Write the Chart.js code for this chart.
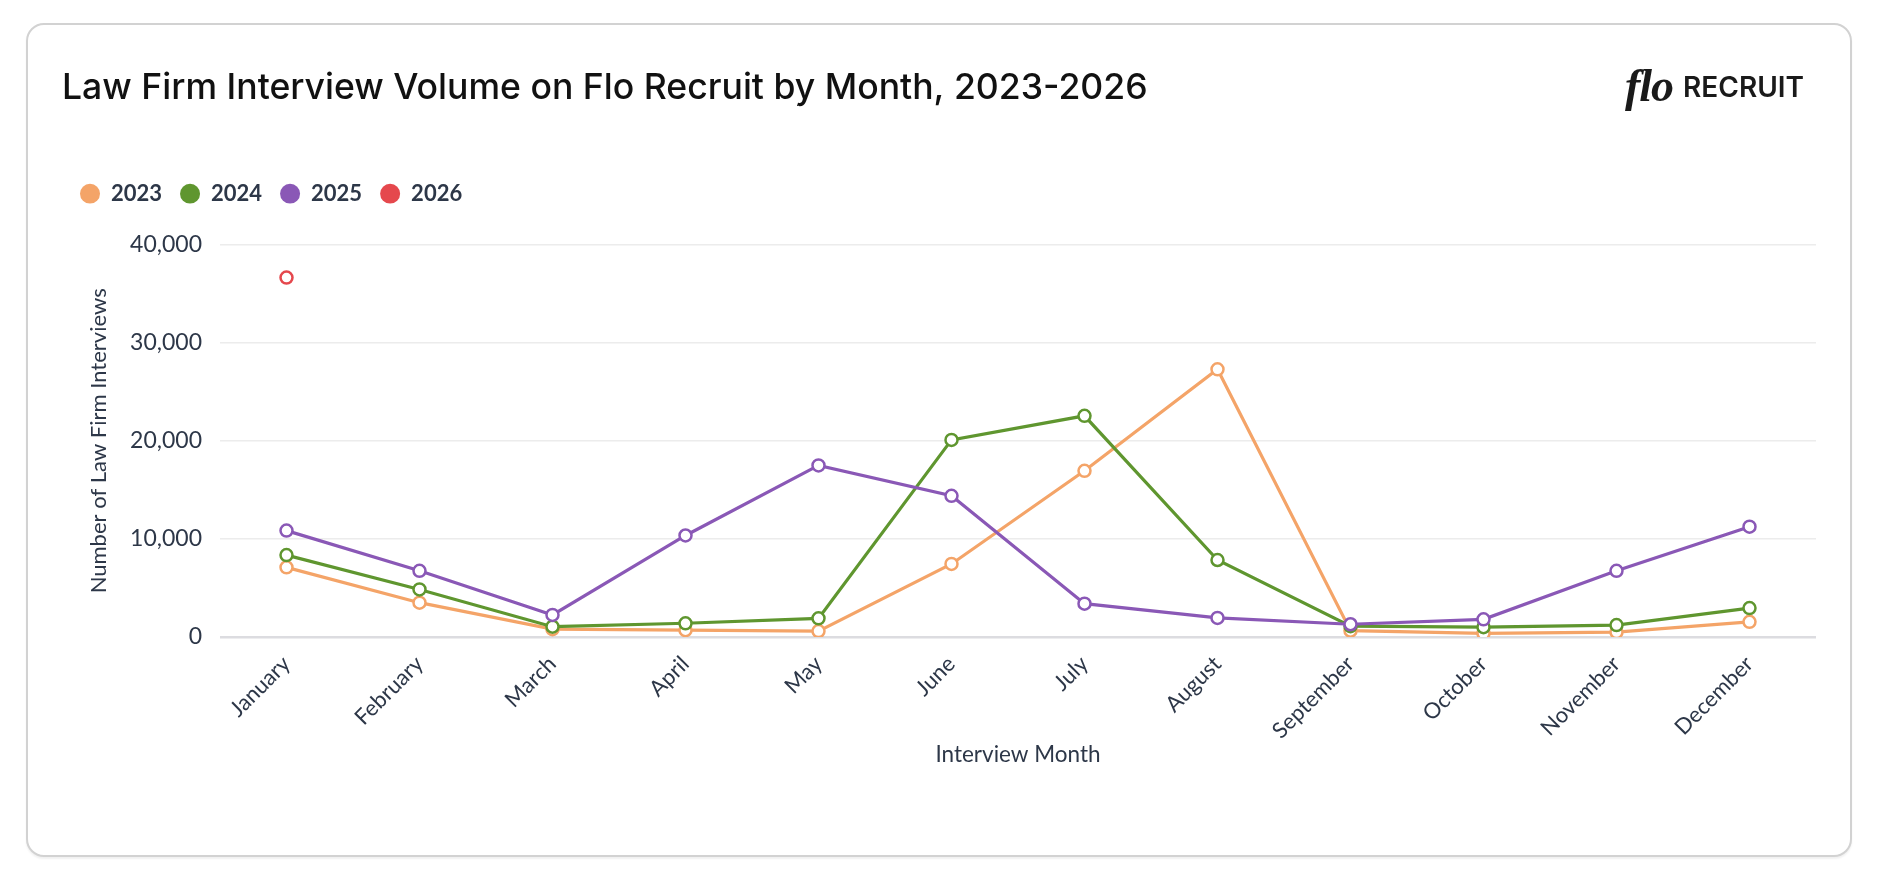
<!DOCTYPE html>
<html>
<head>
<meta charset="utf-8">
<script src="https://cdn.jsdelivr.net/npm/chart.js@4.4.1/dist/chart.umd.min.js"></script>
<style>
  html, body { margin: 0; padding: 0; background: #ffffff; }
  .card {
    position: absolute; left: 26px; top: 23px; width: 1826px; height: 834px;
    box-sizing: border-box; border: 2px solid #d2d2d2; border-radius: 18px;
    box-shadow: 0 2px 2px rgba(0,0,0,0.06); background: #fff;
  }
  .wrap { position: absolute; left: 0; top: 0; width: 1822px; height: 830px; }
  .logo { position: absolute; right: 46px; top: 34px; white-space: nowrap; color: #1a1a1a; }
  .logo .flo { font-family: "Liberation Serif", serif; font-style: italic; font-weight: bold; font-size: 46px; letter-spacing: -1px; }
  .logo .rec { font-family: Inter, sans-serif; font-weight: 600; font-size: 28px; margin-left: 10px; position: relative; top: -4px; }
</style>
</head>
<body>
<div class="card">
  <div class="wrap"><canvas id="myChart"></canvas></div>
  <div class="logo"><span class="flo">flo</span><span class="rec">RECRUIT</span></div>
</div>
<script>
// months along the x axis
var months = ['January', 'February', 'March', 'April', 'May', 'June', 'July',
  'August', 'September', 'October', 'November', 'December'];

// interviews per month
var year2023 = [7100, 3500, 800, 700, 600, 7450, 16950, 27300, 650, 370, 500, 1550];
var year2024 = [8350, 4850, 1050, 1400, 1900, 20100, 22550, 7850, 1100, 1000, 1220, 2950];
var year2025 = [10850, 6750, 2250, 10350, 17500, 14400, 3400, 1950, 1300, 1800, 6750, 11250];
var year2026 = [36650, null, null, null, null, null, null, null, null, null, null, null];

var yTicks = [0, 10000, 20000, 30000, 40000];

var tickColor = '#2d3748';

function makeSet(label, data, color, order) {
  return {
    label: label,
    data: data,
    borderColor: color,
    backgroundColor: color,
    borderWidth: 3.2,
    pointRadius: 6,
    pointHoverRadius: 6,
    pointBorderWidth: 2.5,
    pointBackgroundColor: '#ffffff',
    pointBorderColor: color,
    order: order
  };
}

// push the plot down a bit below the legend
var legendGap = {
  id: 'legendGap',
  beforeInit: function (chart) {
    var fit = chart.legend.fit;
    chart.legend.fit = function () {
      fit.bind(chart.legend)();
      this.height += 30;
    };
  }
};

var ctx = document.getElementById('myChart').getContext('2d');

var myChart = new Chart(ctx, {
  type: 'line',
  data: {
    labels: months,
    datasets: [
      makeSet('2023', year2023, '#f4a468', 3),
      makeSet('2024', year2024, '#5f962f', 2),
      makeSet('2025', year2025, '#8a58b6', 1),
      makeSet('2026', year2026, '#e5484d', 0)
    ]
  },
  options: {
    responsive: true,
    maintainAspectRatio: false,
    animation: false,
    layout: { padding: { left: 34, right: 34, top: 0, bottom: 79 } },
    plugins: {
      title: {
        display: true,
        text: 'Law Firm Interview Volume on Flo Recruit by Month, 2023-2026',
        align: 'start',
        color: '#111111',
        font: { family: 'Inter', size: 35.6, weight: '500' },
        padding: { top: 42, bottom: 55 }
      },
      legend: {
        align: 'start',
        labels: {
          usePointStyle: true,
          pointStyle: 'circle',
          pointStyleWidth: 20,
          boxHeight: 14,
          padding: 18,
          color: tickColor,
          font: { family: 'Lato', size: 22, weight: 'bold' },
          sort: function (a, b) { return a.datasetIndex - b.datasetIndex; },
          generateLabels: function (chart) {
            var items = Chart.defaults.plugins.legend.labels.generateLabels(chart);
            items.forEach(function (it) {
              it.fillStyle = it.strokeStyle;
              it.lineWidth = 0;
            });
            return items;
          }
        }
      },
      tooltip: { enabled: false }
    },
    scales: {
      x: {
        offset: true,
        grid: { display: false },
        border: { display: false },
        ticks: {
          color: tickColor,
          font: { family: 'Lato', size: 22 },
          minRotation: 45,
          maxRotation: 45,
          padding: 6
        },
        title: {
          display: true,
          text: 'Interview Month',
          color: tickColor,
          font: { family: 'Lato', size: 22.5 },
          padding: { top: 4, bottom: 8 }
        },
        afterFit: function (scale) { scale.height = 139; }
      },
      y: {
        min: 0,
        max: 40000,
        border: { display: false },
        grid: {
          drawTicks: false,
          color: function (c) { return c.tick && c.tick.value === 0 ? '#dcdce0' : '#ececec'; },
          lineWidth: function (c) { return c.tick && c.tick.value === 0 ? 2.5 : 1.5; }
        },
        afterBuildTicks: function (scale) {
          scale.ticks = yTicks.map(function (v) { return { value: v }; });
        },
        ticks: {
          color: tickColor,
          font: { family: 'Lato', size: 23 },
          padding: 18,
          callback: function (v) { return v.toLocaleString('en-US'); }
        },
        title: {
          display: true,
          text: 'Number of Law Firm Interviews',
          color: tickColor,
          font: { family: 'Lato', size: 22 },
          padding: { top: 24, bottom: 19 }
        },
        afterFit: function (scale) { scale.width = 158; }
      }
    }
  },
  plugins: [legendGap]
});
</script>
</body>
</html>
